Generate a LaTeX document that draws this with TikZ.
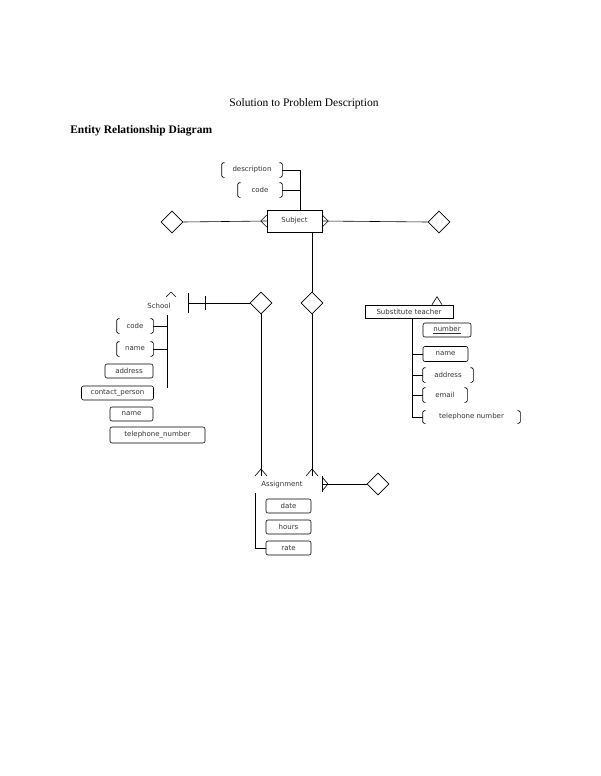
\documentclass[tikz,border=0pt]{standalone}
\usepackage{fontspec}
\setmainfont{Liberation Serif}
\newfontfamily\diafont{DejaVu Sans}
\usetikzlibrary{shapes.geometric}

\def \attH {14pt}
\def \footW {6pt}

\tikzset{
  dia/.style={font=\diafont\fontsize{7}{8}\selectfont, text=black!80},
  ent/.style={dia, draw, inner sep=0pt, minimum height=13pt},
  att/.style={dia, draw, rounded corners=2pt, inner sep=0pt, minimum height=\attH},
  brk/.style={dia, inner sep=0pt, minimum height=\attH},
  rel/.style={draw, diamond, inner sep=0pt, minimum size=22pt},
}

% left and right rounded bracket of an attribute
\newcommand{\attbrk}[1]{%
  \draw[rounded corners=1.5pt] ([xshift=3pt]#1.north west) -- (#1.north west) -- (#1.south west) -- ([xshift=3pt]#1.south west);
  \draw[rounded corners=1.5pt] ([xshift=-3pt]#1.north east) -- (#1.north east) -- (#1.south east) -- ([xshift=-3pt]#1.south east);}

\begin{document}
\begin{tikzpicture}[x=1pt, y=-1pt, line width=0.6pt]
      \fill[white] (0,0) rectangle (600,776);
      \useasboundingbox (0,0) rectangle (600,776);
      \node[font=\fontsize{11.5}{14}\selectfont] (title) at (304,104) {Solution to Problem Description};
      \node[anchor=west, inner sep=0pt, font=\bfseries\fontsize{11.5}{14}\selectfont] (head) at (70,131) {Entity Relationship Diagram};

      % Subject
      \node[ent, minimum width=55pt, minimum height=22pt] (subj) at (294.5,221) {Subject};
      \node[brk, minimum width=60pt] (sdesc) at (252,170) {description};
      \node[brk, minimum width=44pt] (scode) at (260,190) {code};
      \attbrk{sdesc} \attbrk{scode}
      \coordinate (stop) at (300,210);
      \draw (sdesc.east) -| (stop);
      \draw (scode.east) -- (scode.east -| stop);

      \node[rel] (relL) at (172,222) {};
      \node[rel] (relR) at (439,222) {};
      \node[rel] (relM) at (312,303) {};
      \draw (relL.east) -- (subj.west);
      \draw ([yshift=6pt]subj.west) -- ([xshift=-\footW]subj.west) -- ([yshift=-6pt]subj.west);
      \draw (subj.east) -- (relR.west);
      \draw ([yshift=6pt]subj.east) -- ([xshift=\footW]subj.east) -- ([yshift=-6pt]subj.east);
      \draw (subj.south -| relM) -- (relM.north);

      % School
      \node[dia] (school) at (159,306) {School};
      \coordinate (schC) at (171,297);
      \draw ([xshift=-5pt]schC) -- ([yshift=5pt]schC) -- ([xshift=5pt]schC);
      \node[rel] (relS) at (261,303) {};
      \coordinate (schR) at (188,303);
      \draw (schR) -- (relS.west);
      \draw ([yshift=10pt]schR) -- ([yshift=-10pt]schR);
      \draw ([xshift=17pt,yshift=7pt]schR) -- ([xshift=17pt,yshift=-7pt]schR);

      \node[brk, minimum width=36pt] (sccode) at (135,326) {code};
      \node[brk, minimum width=36pt] (scname) at (135,349) {name};
      \attbrk{sccode} \attbrk{scname}
      \coordinate (schT) at (167,315);
      \coordinate (schB) at (167,388);
      \draw (schT) -- (schB);
      \draw (sccode.east) -- (sccode.east -| schT);
      \draw (scname.east) -- (scname.east -| schT);
      \node[att, minimum width=48pt] (scaddr) at (129,371) {address};
      \node[att, minimum width=72pt] (sccont) at (117.5,393) {contact\_person};
      \node[att, minimum width=43pt] (scname2) at (131.5,414) {name};
      \node[att, minimum width=95pt, minimum height=16pt] (sctel) at (157.5,435) {telephone\_number};

      % Substitute teacher
      \node[ent, minimum width=88pt] (sub) at (409,311.5) {Substitute teacher};
      \draw ([xshift=23pt]sub.north) -- ([xshift=28pt,yshift=8pt]sub.north) -- ([xshift=33pt]sub.north);
      \coordinate (subB) at (412,417);
      \draw (sub.south -| subB) -- (subB);
      \node[att, minimum width=48pt] (tnum) at (447,330) {\underline{number}};
      \node[att, minimum width=45pt, minimum height=15pt] (tname) at (445.5,354) {name};
      \node[brk, minimum width=50pt] (taddr) at (448,375) {address};
      \node[brk, minimum width=44pt] (tmail) at (445,395) {email};
      \node[brk, minimum width=97pt, minimum height=12pt] (ttel) at (471.5,417) {telephone number};
      \attbrk{taddr} \attbrk{tmail} \attbrk{ttel}
      \foreach \n in {tname,taddr,tmail,ttel}
        \draw (\n.west -| subB) -- (\n.west);

      % Assignment
      \node[dia] (asg) at (282,485) {Assignment};
      \coordinate (asgL) at (261,476);
      \coordinate (asgM) at (312,476);
      \draw (relS.south) -- (asgL);
      \draw (relM.south) -- (asgM);
      \draw ([xshift=-\footW]asgL) -- ([yshift=7pt]asgL) -- ([xshift=\footW]asgL);
      \draw ([xshift=-\footW]asgM) -- ([yshift=7pt]asgM) -- ([xshift=\footW]asgM);
      \node[rel] (relA) at (378,484) {};
      \coordinate (asgR) at (322,484);
      \draw (asgR) -- (relA.west);
      \draw ([yshift=8pt]asgR) -- ([yshift=-8pt]asgR);
      \draw ([yshift=7pt]asgR) -- ([xshift=\footW]asgR) -- ([yshift=-7pt]asgR);

      \node[att, minimum width=45pt] (adate) at (288.5,506) {date};
      \node[att, minimum width=45pt] (ahours) at (288.5,527) {hours};
      \node[att, minimum width=45pt] (arate) at (288.5,548) {rate};
      \coordinate (asgB) at (255,493);
      \draw (asgB) |- (arate.west);
   \end{tikzpicture}
\end{document}
